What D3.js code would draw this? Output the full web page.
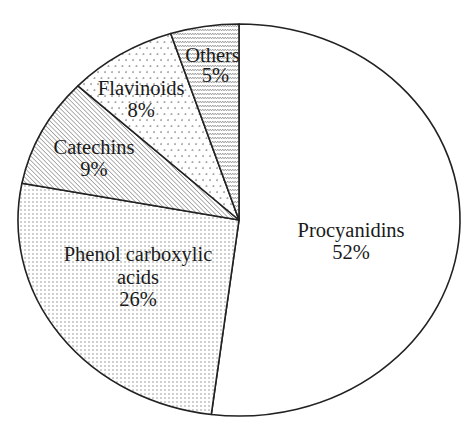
<!DOCTYPE html>
<html>
<head>
<meta charset="utf-8">
<script src="https://cdn.jsdelivr.net/npm/d3@7"></script>
<style>
  html, body { margin: 0; padding: 0; background: #fff; }
  svg { display: block; }
  text { font-family: "Liberation Serif", "Times New Roman", Times, "DejaVu Serif", serif; fill: #1a1a1a; }
</style>
</head>
<body>
<div id="chart"></div>
<script>
// data
const categories = ["Procyanidins", "Phenol carboxylic acids", "Catechins", "Flavinoids", "Others"];
const shares = [52, 26, 9, 8, 5];
const labelLines = [["Procyanidins"], ["Phenol carboxylic", "acids"], ["Catechins"], ["Flavinoids"], ["Others"]];

const W = 474, H = 448;
const cx = 239, cy = 220; // pie centre
const rx = 221, ry = 196; // pie is a bit wider than tall
const sx = rx / ry;

// label block centres, in units of the radii (layout only)
const labelAt = [[0.507, 0.105], [-0.457, 0.288], [-0.656, -0.316], [-0.443, -0.617], [-0.12, -0.79]];
const lineH = [22.5, 22.5, 22, 22, 20];

const svg = d3.select("#chart").append("svg")
  .attr("width", W)
  .attr("height", H);

const defs = svg.append("defs");
const inv = `scale(${1 / sx},1)`;

// fills
const pat = (id, w, h) => defs.append("pattern")
  .attr("id", id)
  .attr("patternUnits", "userSpaceOnUse")
  .attr("width", w).attr("height", h)
  .attr("patternTransform", inv);

// fine dot grid
let p = pat("dots", 4, 4);
p.append("rect").attr("width", 4).attr("height", 4).attr("fill", "#fff");
p.append("circle").attr("cx", 2).attr("cy", 2).attr("r", 0.75).attr("fill", "#8a8a8a");

// diagonal hatch
p = defs.append("pattern")
  .attr("id", "hatch")
  .attr("patternUnits", "userSpaceOnUse")
  .attr("width", 3.2).attr("height", 3.2)
  .attr("patternTransform", inv + " rotate(-45)");
p.append("rect").attr("width", 3.2).attr("height", 3.2).attr("fill", "#fff");
p.append("line").attr("x1", 0).attr("y1", 0).attr("x2", 0).attr("y2", 3.2)
  .attr("stroke", "#8f8f8f").attr("stroke-width", 1.4);

// sparse marks
p = pat("sparse", 7, 12);
p.append("rect").attr("width", 7).attr("height", 12).attr("fill", "#fff");
p.append("path").attr("d", "M1.5,2.2 l1.4,-1 l0.2,1.6z").attr("fill", "#9a9a9a").attr("stroke", "#9a9a9a").attr("stroke-width", 0.6);
p.append("path").attr("d", "M5,8.2 l1.4,-1 l0.2,1.6z").attr("fill", "#9a9a9a").attr("stroke", "#9a9a9a").attr("stroke-width", 0.6);

// wavy lines
p = pat("wave", 5, 4);
p.append("rect").attr("width", 5).attr("height", 4).attr("fill", "#fff");
p.append("path").attr("d", "M0,3 L1.25,1 L2.5,3 L3.75,1 L5,3")
  .attr("fill", "none").attr("stroke", "#8a8a8a").attr("stroke-width", 0.7);

const fills = ["#ffffff", "url(#dots)", "url(#hatch)", "url(#sparse)", "url(#wave)"];

const pie = d3.pie().sort(null).value(d => d);
const arc = d3.arc().innerRadius(0).outerRadius(ry);
const arcs = pie(shares);

const g = svg.append("g")
  .attr("transform", `translate(${cx},${cy}) scale(${sx},1)`);

g.selectAll("path.slice")
  .data(arcs)
  .join("path")
  .attr("class", "slice")
  .attr("d", arc)
  .attr("fill", (d, i) => fills[i])
  .attr("stroke", "#222")
  .attr("stroke-width", 1.6)
  .attr("stroke-linejoin", "round")
  .attr("vector-effect", "non-scaling-stroke");

// labels
const fs = 20.5;
const labels = svg.append("g");
arcs.forEach((d, i) => {
  const lines = labelLines[i].concat([shares[i] + "%"]);
  const x = cx + labelAt[i][0] * rx;
  const y = cy + labelAt[i][1] * ry;
  const t = labels.append("text")
    .attr("text-anchor", "middle")
    .attr("font-size", fs);
  lines.forEach((s, j) => {
    t.append("tspan")
      .attr("x", x + (i === 4 && j === 1 ? 3 : 0))
      .attr("y", y + (j - (lines.length - 1) / 2) * lineH[i] + fs * 0.35)
      .text(s);
  });
});
</script>
</body>
</html>
